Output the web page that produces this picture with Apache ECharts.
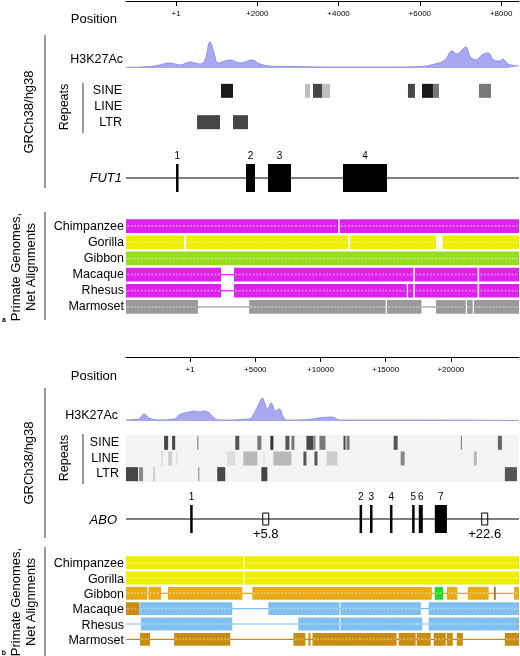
<!DOCTYPE html>
<html><head><meta charset="utf-8">
<script src="https://cdn.jsdelivr.net/npm/echarts@6/dist/echarts.min.js"></script>
<style>html,body{margin:0;background:#fff}#c{width:520px;height:656px}</style>
</head><body><div id="c"></div>
<script>
// ---- data (positions in bp relative to gene start) ----
const domainA = [-1230, 8440];
const domainB = [-4923, 25230];
const posTicksA = [1, 2000, 4000, 6000, 8000];
const posTicksB = [1, 5000, 10000, 15000, 20000];
const repeatRows = ['SINE', 'LINE', 'LTR'];
const species = ['Chimpanzee', 'Gorilla', 'Gibbon', 'Macaque', 'Rhesus', 'Marmoset'];

// H3K27Ac signal [bp, value]
const h3A = [[-1229,0.5],[-885,1],[-516,2],[-147,5],[99,3],[345,6],[591,4],[714,8],[837,26],[936,15],[1034,5],
  [1206,7],[1329,8],[1575,5],[1871,8],[2067,4],[2313,2],[2805,1.5],[3789,1],[5511,1],[6003,1.5],[6372,4],
  [6618,8],[6791,17],[6914,14],[7037,18],[7135,21],[7233,12],[7381,8],[7529,13],[7676,15],[7824,8],
  [7971,7],[8045,9],[8168,4],[8439,2]];
const h3B = [[-4921,1],[-3921,2],[-3536,7],[-3152,3],[-2383,1],[-1229,2],[-845,6],[-460,8],[-76,9],[309,10],
  [693,9],[1078,10],[1462,8],[1847,3],[2231,1],[4538,2],[4923,8],[5153,14],[5384,20],[5538,23],[5769,16],
  [5922,12],[6230,18],[6537,10],[6845,12],[7153,4],[7384,1],[8383,1],[10921,4],[11459,1],[16073,1],[25224,0.5]];

// repeats [start, end, row, grey level]
const repeatsA = [[1108,1403,0,25],[3175,3297,0,190],[3371,3593,0,70],[3593,3790,0,190],[5708,5880,0,70],
  [6053,6323,0,25],[6323,6471,0,120],[7455,7750,0,120],[518,1083,2,70],[1403,1772,2,70]];
const repeatsB = [[-1998,-1691,0,70],[-1383,-1152,0,70],[539,616,0,136],[3462,3769,0,85],[5153,5461,0,120],
  [6153,6384,0,50],[7307,7614,0,85],[7768,7999,0,120],[8921,9460,0,70],[9460,9614,0,136],[9921,10383,0,120],
  [11767,11921,0,70],[11998,12229,0,120],[15612,15919,0,85],[20764,20841,0,136],[23610,23918,0,100],
  [-2229,-2075,1,220],[-1691,-1383,1,205],[-1076,-999,1,220],[2846,3462,1,220],[4077,5153,1,185],
  [5615,5692,1,220],[6384,7768,1,185],[8691,8921,1,85],[9537,9768,1,85],[10460,11305,1,205],
  [16150,16457,1,136],[21764,21995,1,185],
  [-4921,-3998,2,70],[-3921,-3614,2,136],[-2844,-2690,2,205],[616,693,2,150],[2077,2692,2,70],
  [5461,5922,2,70],[24148,25071,2,85]];

// exons [start, end, label]
const exonsA = [[1,50,'1'],[1723,1944,'2'],[2264,2830,'3'],[4109,5192,'4']];
const exonsB = [[1,80,'1'],[13000,13120,'2'],[13800,13900,'3'],[15330,15430,'4'],[17030,17130,'5'],
  [17540,17850,'6'],[18770,19700,'7']];
const markersB = [[5800,'+5.8'],[22600,'+22.6']];

// net alignments [row, start, end, colour index]
const alignPalette = ['#dd22ee', '#eeee00', '#99dd22', '#9a9a9a', '#eaaa14', '#c88c12', '#80bff0', '#22dd22', '#a8781a'];
const alignA = [[0,-1230,3990,0],[0,4030,8440,0],
  [1,-1230,200,1],[1,250,4230,1],[1,4280,6400,1],[1,6560,8440,1],
  [2,-1230,8440,2],
  [3,-1230,1108,0],[3,1428,5840,0],[3,5880,7420,0],[3,7460,8440,0],
  [4,-1230,1108,0],[4,1428,5680,0],[4,5710,5840,0],[4,5880,7420,0],[4,7460,8440,0],
  [5,-1230,540,3],[5,1800,5160,3],[5,5190,6040,3],[5,6400,7130,3],[5,7160,7300,3],[5,7330,8440,3]];
const gapsA = [[3,1108,1428,0],[4,1108,1428,0],[5,540,1800,3],[5,6040,6400,3]];
const alignB = [[0,-4923,4100,1],[0,4170,25230,1],[1,-4923,4100,1],[1,4170,25230,1],
  [2,-4921,-3300,4],[2,-3200,-2229,4],[2,-1700,4000,4],[2,4770,18540,4],[2,18770,19400,7],[2,19700,20500,4],
  [2,21300,22900,4],[2,23300,23450,8],[2,24850,25230,4],
  [3,-4921,-3921,5],[3,-3900,3230,6],[3,6000,11460,6],[3,11540,17700,6],[3,18300,25230,6],
  [4,-3770,3230,6],[4,8300,11460,6],[4,11540,17800,6],[4,18300,25230,6],
  [5,-3844,-3075,5],[5,-1229,3077,5],[5,7922,8845,5],[5,9075,9229,5],[5,9383,15842,5],[5,15996,17303,5],
  [5,17380,18457,5],[5,18688,19610,5],[5,19687,20148,5],[5,20456,20918,5],[5,24148,25230,5]];
const gapsB = [[2,-4923,25230,4],[3,-3921,25230,6],[4,-4923,25230,6],[5,-4923,25230,5]];

// ---- layout helpers ----
const grids = [], xAxes = [], yAxes = [], series = [];
function track(top, height, domain, ymin, ymax, inverse) {
  const i = grids.length;
  grids.push({ left: 126, right: 1, top, height });
  xAxes.push({ gridIndex: i, type: 'value', min: domain[0], max: domain[1], show: false });
  yAxes.push({ gridIndex: i, type: 'value', min: ymin, max: ymax, inverse: !!inverse, show: false });
  return i;
}
function posAxis(top, domain, ticks) {
  const i = grids.length;
  grids.push({ left: 126, right: 1, top: top - 1, height: 1 });
  xAxes.push({ gridIndex: i, type: 'value', min: domain[0], max: domain[1], position: 'bottom',
    axisLine: { lineStyle: { color: '#000', width: 1 } },
    axisTick: { customValues: ticks, length: 5, lineStyle: { color: '#000' } },
    axisLabel: { customValues: ticks, formatter: v => '+' + v, fontSize: 8, color: '#000', margin: 9,
      fontFamily: 'Liberation Sans' },
    splitLine: { show: false } });
  yAxes.push({ gridIndex: i, show: false, min: 0, max: 1 });
}
function signal(top, domain, data) {
  const i = track(top, 30, domain, 0, 30);
  series.push({ type: 'line', xAxisIndex: i, yAxisIndex: i, data, symbol: 'none', smooth: 0.4,
    lineStyle: { color: '#9090e0', width: 1 }, areaStyle: { color: '#a8a8f0', opacity: 1 } });
}
function repeats(top, domain, data, bg) {
  const i = track(top, 47, domain, -0.5, 2.5, true);
  series.push({ type: 'custom', xAxisIndex: i, yAxisIndex: i, clip: true, data,
    renderItem(p, api) {
      const a = api.coord([api.value(0), api.value(2)]), b = api.coord([api.value(1), api.value(2)]);
      const g = api.value(3);
      return { type: 'rect', shape: { x: a[0], y: a[1] - 7, width: Math.max(1.2, b[0] - a[0]), height: 14 },
        style: { fill: `rgb(${g},${g},${g})` } };
    } });
  if (bg) graphics.push({ type: 'rect', z: -1, shape: { x: 126, y: top, width: 393, height: 47 }, style: { fill: '#f4f4f4' } });
}
function gene(top, domain, exons, markers) {
  const i = track(top, 28, domain, 0, 1);
  series.push({ type: 'line', xAxisIndex: i, yAxisIndex: i, data: [[domain[0], 0.5], [domain[1], 0.5]],
    symbol: 'none', lineStyle: { color: '#000', width: 1 } });
  series.push({ type: 'custom', xAxisIndex: i, yAxisIndex: i, data: exons,
    renderItem(p, api) {
      const a = api.coord([api.value(0), 1]), b = api.coord([api.value(1), 0]);
      const w = Math.max(2.5, b[0] - a[0]);
      return { type: 'group', children: [
        { type: 'rect', shape: { x: a[0], y: a[1], width: w, height: b[1] - a[1] }, style: { fill: '#000' } },
        { type: 'text', style: { text: exons[p.dataIndex][2], x: a[0] + w / 2, y: a[1] - 8, align: 'center',
          verticalAlign: 'middle', fontSize: 10, fill: '#000', fontFamily: 'Liberation Sans' } }] };
    } });
  if (markers) series.push({ type: 'custom', xAxisIndex: i, yAxisIndex: i, data: markers.map(m => [m[0]]),
    renderItem(p, api) {
      const c = api.coord([api.value(0), 0.5]);
      return { type: 'group', children: [
        { type: 'rect', shape: { x: c[0] - 3, y: c[1] - 6, width: 6, height: 12 }, style: { fill: '#fff', stroke: '#000', lineWidth: 1 } },
        { type: 'text', style: { text: markers[p.dataIndex][1], x: c[0], y: c[1] + 15, align: 'center',
          verticalAlign: 'middle', fontSize: 13, fill: '#000', fontFamily: 'Liberation Sans' } }] };
    } });
}
function alignments(top, height, domain, blocks, gaps) {
  const i = track(top, height, domain, -0.5, 5.5, true);
  const bh = height / 6 - 2.5;
  series.push({ type: 'custom', xAxisIndex: i, yAxisIndex: i, clip: true, data: gaps.map(g => [g[1], g[2], g[0], g[3]]),
    renderItem(p, api) {
      const a = api.coord([api.value(0), api.value(2)]), b = api.coord([api.value(1), api.value(2)]);
      return { type: 'line', shape: { x1: a[0], y1: a[1], x2: b[0], y2: b[1] },
        style: { stroke: alignPalette[api.value(3)], lineWidth: 1.2 } };
    } });
  series.push({ type: 'custom', xAxisIndex: i, yAxisIndex: i, clip: true, data: blocks.map(g => [g[1], g[2], g[0], g[3]]),
    renderItem(p, api) {
      const a = api.coord([api.value(0), api.value(2)]), b = api.coord([api.value(1), api.value(2)]);
      const w = Math.max(1, b[0] - a[0]);
      return { type: 'group', children: [
        { type: 'rect', shape: { x: a[0], y: a[1] - bh / 2, width: w, height: bh }, style: { fill: alignPalette[api.value(3)] } },
        { type: 'line', shape: { x1: a[0] + 1, y1: a[1], x2: a[0] + w - 1, y2: a[1] },
          style: { stroke: 'rgba(255,255,255,0.35)', lineWidth: 2, lineDash: [2, 1.5] } }] };
    } });
}

const font = 'Liberation Sans';
const graphics = [];
function label(text, x, y, size, opts) {
  graphics.push(Object.assign({ type: 'text', x, y, style: { text, fontSize: size, fill: '#000', fontFamily: font,
    align: 'right', verticalAlign: 'middle' } }, opts || {}));
}
function vlabel(text, x, y, size) {
  graphics.push({ type: 'text', x, y, rotation: Math.PI / 2, style: { text, fontSize: size, fill: '#000',
    fontFamily: font, align: 'center', verticalAlign: 'middle', lineHeight: size + 2 } });
}
function vline(x, y1, y2) {
  graphics.push({ type: 'line', shape: { x1: x, y1, x2: x, y2 }, style: { stroke: '#555', lineWidth: 1.2 } });
}

// ---- panel a ----
posAxis(1, domainA, posTicksA);
signal(38, domainA, h3A);
repeats(83, domainA, repeatsA, false);
gene(164, domainA, exonsA, null);
alignments(218, 97, domainA, alignA, gapsA);
label('Position', 117, 19, 13);
label('H3K27Ac', 123, 60, 12.5);
repeatRows.forEach((r, k) => label(r, 122, [91, 107, 123][k], 12.5));
label('FUT1', 122, 178, 13, { style: { text: 'FUT1', fontSize: 13, fontStyle: 'italic', fill: '#000', fontFamily: font, align: 'right', verticalAlign: 'middle' } });
species.forEach((s, k) => label(s, 124, 227 + k * 16, 12.5));
vlabel('GRCh38/hg38', 29, 112, 13);
vlabel('Repeats', 65, 107, 12.5);
vlabel('Primate Genomes,\nNet Alignments', 24, 267, 13);
vline(45, 35, 188); vline(83, 83, 133); vline(45, 212, 320);
label('a', 6, 320, 7, { style: { text: 'a', fontSize: 7, fontWeight: 'bold', fill: '#000', fontFamily: font, align: 'right', verticalAlign: 'middle' } });

// ---- panel b ----
posAxis(357, domainB, posTicksB);
signal(391, domainB, h3B);
repeats(435, domainB, repeatsB, true);
gene(505, domainB, exonsB, markersB);
alignments(555, 92, domainB, alignB, gapsB);
label('Position', 117, 376, 13);
label('H3K27Ac', 118, 416, 12.5);
repeatRows.forEach((r, k) => label(r, 119, [443, 459, 474][k], 12.5));
label('ABO', 117, 520, 13, { style: { text: 'ABO', fontSize: 13, fontStyle: 'italic', fill: '#000', fontFamily: font, align: 'right', verticalAlign: 'middle' } });
species.forEach((s, k) => label(s, 124, 564 + k * 15.3, 12.5));
vlabel('GRCh38/hg38', 29, 463, 13);
vlabel('Repeats', 65, 458, 12.5);
vlabel('Primate Genomes,\nNet Alignments', 24, 602, 13);
vline(45, 388, 538); vline(83, 434, 484); vline(45, 547, 656);
label('b', 6, 653, 7, { style: { text: 'b', fontSize: 7, fontWeight: 'bold', fill: '#000', fontFamily: font, align: 'right', verticalAlign: 'middle' } });

const chart = echarts.init(document.getElementById('c'), null, { renderer: 'canvas' });
chart.setOption({ animation: false, backgroundColor: '#fff', grid: grids, xAxis: xAxes, yAxis: yAxes, series, graphic: graphics });
</script></body></html>
